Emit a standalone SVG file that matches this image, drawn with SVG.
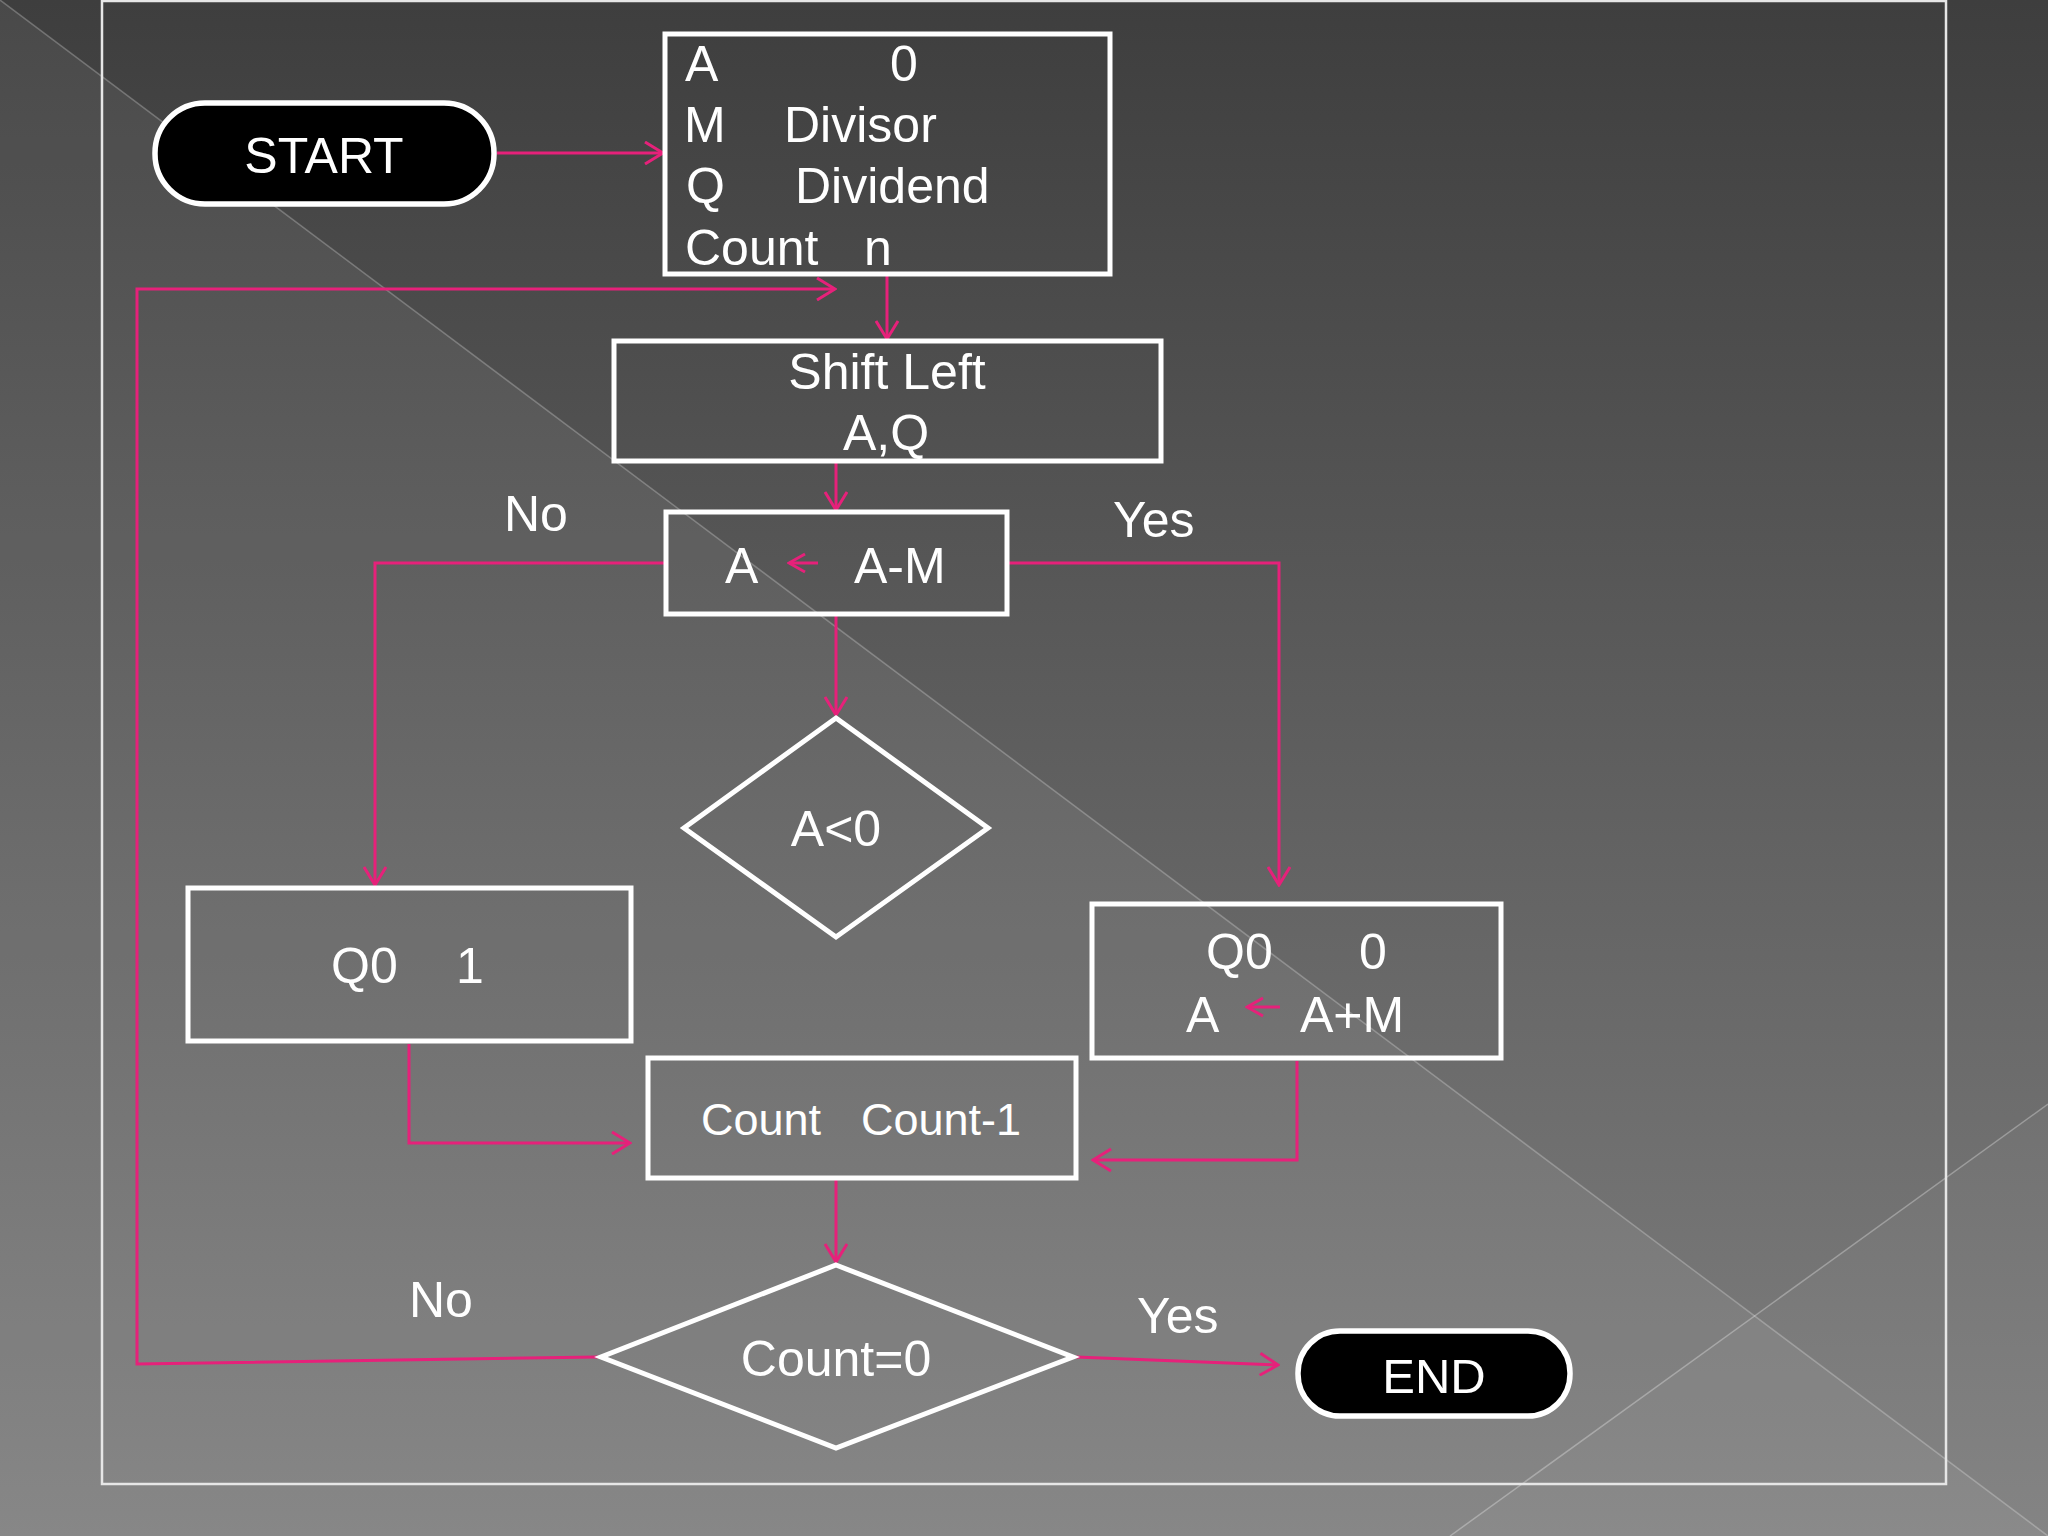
<svg xmlns="http://www.w3.org/2000/svg" width="2048" height="1536" viewBox="0 0 2048 1536">
  <defs>
    <linearGradient id="bg" x1="0" y1="0" x2="0" y2="1">
      <stop offset="0" stop-color="#3e3e3e"/>
      <stop offset="1" stop-color="#808080"/>
    </linearGradient>
    <marker id="ah" viewBox="0 0 22 24" refX="20" refY="12" markerWidth="22" markerHeight="24" markerUnits="userSpaceOnUse" orient="auto">
      <path d="M2,1 L20,12 L2,23" fill="none" stroke="#E6217A" stroke-width="3"/>
    </marker>
    <marker id="ahs" viewBox="0 0 20 22" refX="18" refY="11" markerWidth="20" markerHeight="22" markerUnits="userSpaceOnUse" orient="auto">
      <path d="M2,2 L18,11 L2,20" fill="none" stroke="#E6217A" stroke-width="3"/>
    </marker>
  </defs>
  <style>
    .box { fill: none; stroke: #ffffff; stroke-width: 5; }
    .pill { fill: #000000; stroke: #ffffff; stroke-width: 5.5; }
    .t { font-family: "Liberation Sans", Arial, sans-serif; font-size: 50px; fill: #ffffff; }
    .c { text-anchor: middle; }
    .con { fill: none; stroke: #E6217A; stroke-width: 3; }
  </style>

  <!-- background -->
  <rect x="0" y="0" width="2048" height="1536" fill="url(#bg)"/>
  <polygon points="0,0 2048,1536 0,1536" fill="#ffffff" fill-opacity="0.06"/>
  <polygon points="1450,1536 2048,1104 2048,1536" fill="#ffffff" fill-opacity="0.03"/>
  <line x1="0" y1="0" x2="2048" y2="1536" stroke="#ffffff" stroke-opacity="0.25" stroke-width="1.5"/>
  <line x1="1450" y1="1536" x2="2048" y2="1104" stroke="#ffffff" stroke-opacity="0.3" stroke-width="1.5"/>
  <rect x="102" y="1" width="1844" height="1483" fill="none" stroke="#e6e6e6" stroke-width="2.5"/>

  <!-- connectors -->
  <g id="connectors">
    <line class="con" x1="497" y1="153" x2="663" y2="153" marker-end="url(#ah)"/>
    <line class="con" x1="887" y1="276" x2="887" y2="339" marker-end="url(#ah)"/>
    <polyline class="con" points="598,1357 137,1364 137,289 835,289" marker-end="url(#ah)"/>
    <line class="con" x1="836" y1="463" x2="836" y2="510" marker-end="url(#ah)"/>
    <line class="con" x1="836" y1="616" x2="836" y2="715" marker-end="url(#ah)"/>
    <polyline class="con" points="664,563 375,563 375,885" marker-end="url(#ah)"/>
    <polyline class="con" points="1009,563 1279,563 1279,885" marker-end="url(#ah)"/>
    <polyline class="con" points="409,1044 409,1143 630,1143" marker-end="url(#ah)"/>
    <polyline class="con" points="1297,1061 1297,1160 1093,1160" marker-end="url(#ah)"/>
    <line class="con" x1="836" y1="1180" x2="836" y2="1262" marker-end="url(#ah)"/>
    <line class="con" x1="1076" y1="1357" x2="1278" y2="1365" marker-end="url(#ah)"/>
  </g>

  <!-- nodes -->
  <g id="start">
    <rect class="pill" x="155" y="103" width="339" height="101" rx="50" ry="50"/>
    <text class="t c" x="324" y="173">START</text>
  </g>

  <g id="init">
    <rect class="box" x="665" y="34" width="445" height="240"/>
    <text class="t" x="685" y="81">A</text>
    <text class="t" x="890" y="81">0</text>
    <text class="t" x="684" y="142">M</text>
    <text class="t" x="784" y="142">Divisor</text>
    <text class="t" x="686" y="203">Q</text>
    <text class="t" x="795" y="203">Dividend</text>
    <text class="t" x="685" y="265">Count</text>
    <text class="t" x="864" y="265">n</text>
  </g>

  <g id="shift">
    <rect class="box" x="614" y="341" width="547" height="120"/>
    <text class="t c" x="887" y="389">Shift Left</text>
    <text class="t c" x="886" y="450">A,Q</text>
  </g>

  <g id="sub">
    <rect class="box" x="666" y="512" width="341" height="102"/>
    <text class="t" x="725" y="583">A</text>
    <line class="con" x1="818" y1="563" x2="789" y2="563" marker-end="url(#ahs)"/>
    <text class="t" x="854" y="583">A-M</text>
  </g>

  <g id="decision1">
    <polygon class="box" points="836,718 988,828 836,937 684,828"/>
    <text class="t c" x="836" y="846">A&lt;0</text>
  </g>

  <g id="labels1">
    <text class="t" x="504" y="531">No</text>
    <text class="t" x="1113" y="537">Yes</text>
  </g>

  <g id="setq1">
    <rect class="box" x="188" y="888" width="443" height="153"/>
    <text class="t" x="331" y="983">Q0</text>
    <text class="t" x="456" y="983">1</text>
  </g>

  <g id="setq0">
    <rect class="box" x="1092" y="904" width="409" height="154"/>
    <text class="t" x="1206" y="969">Q0</text>
    <text class="t" x="1359" y="969">0</text>
    <text class="t" x="1186" y="1032">A</text>
    <line class="con" x1="1280" y1="1007" x2="1247" y2="1007" marker-end="url(#ahs)"/>
    <text class="t" x="1300" y="1032">A+M</text>
  </g>

  <g id="dec">
    <rect class="box" x="648" y="1058" width="428" height="120"/>
    <text class="t" x="701" y="1135" style="font-size:45px">Count</text>
    <text class="t" x="861" y="1135" style="font-size:45px">Count-1</text>
  </g>

  <g id="decision2">
    <polygon class="box" points="836,1265 1073,1357 836,1448 601,1357"/>
    <text class="t c" x="836" y="1376">Count=0</text>
  </g>

  <g id="labels2">
    <text class="t" x="409" y="1317">No</text>
    <text class="t" x="1137" y="1333">Yes</text>
  </g>

  <g id="end">
    <rect class="pill" x="1298" y="1331" width="272" height="85" rx="42" ry="42"/>
    <text class="t c" x="1434" y="1393" style="font-size:49px">END</text>
  </g>
</svg>
